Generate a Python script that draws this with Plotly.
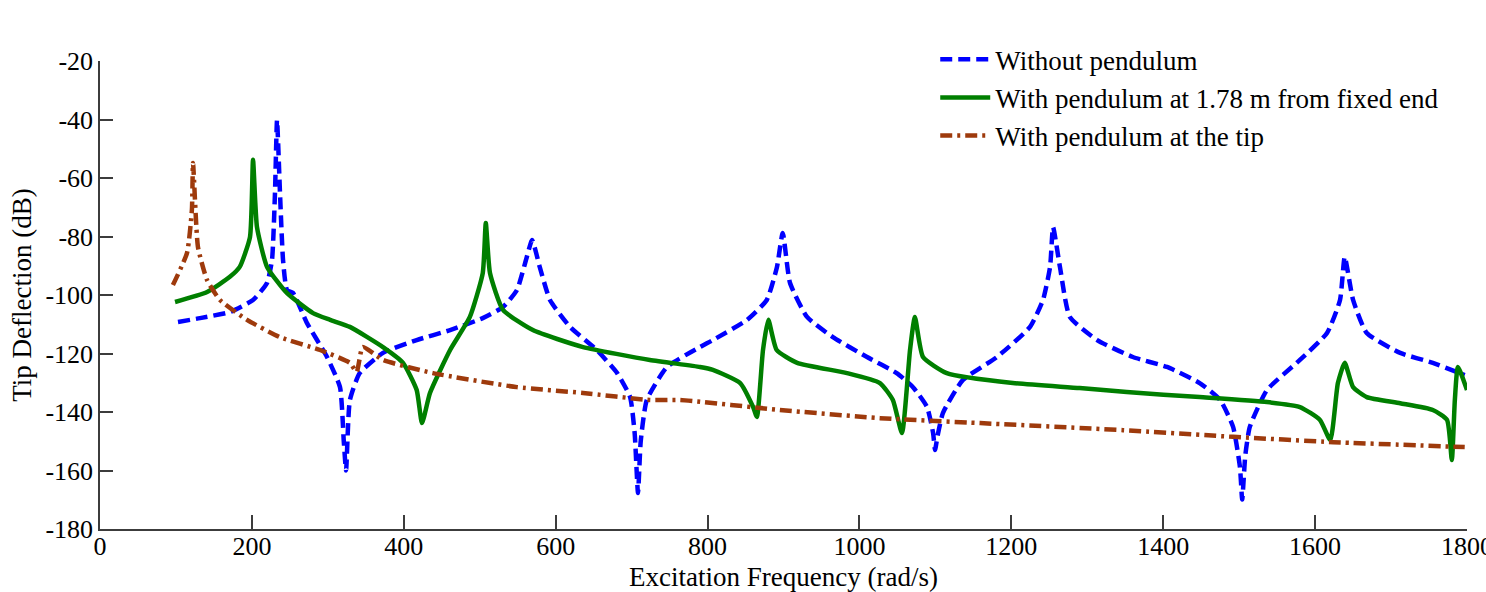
import plotly.graph_objects as go

# ---- Data ----
freq_without = [102.7, 131.7, 171.2, 201.5, 219.9, 226.5, 230.4, 233.1, 237.0, 241.0, 246.2, 254.1,
                272.6, 298.9, 316.0, 321.0, 324.0, 329.0, 342.0, 372.6, 417.0, 461.0, 504.0, 530.7,
                549.0, 562.0, 569.0, 579.0, 592.5, 619.0, 654.0, 681.0, 698.0, 704.0, 708.4, 712.0,
                720.0, 746.6, 790.0, 807.0, 852.0, 878.0, 891.4, 899.0, 908.6, 931.0, 965.0, 1010.0,
                1049.0, 1070.5, 1089.0, 1097.0, 1099.5, 1103.0, 1110.0, 1136.0, 1181.0, 1224.6,
                1241.7, 1251.0, 1255.0, 1264.0, 1277.0, 1313.0, 1360.0, 1405.0, 1448.0, 1475.0,
                1492.0, 1501.0, 1504.0, 1508.0, 1514.0, 1536.6, 1580.0, 1615.7, 1632.8, 1639.0,
                1650.0, 1668.0, 1712.0, 1755.0, 1797.0]
db_without = [-109.2, -107.9, -105.8, -101.7, -95.9, -88.0, -65.1, -40.2, -65.1, -88.0, -98.3, -99.3,
              -109.6, -121.2, -131.5, -150.0, -160.0, -136.0, -126.7, -119.8, -115.4, -112.0, -107.9, -104.1,
              -98.3, -87.0, -81.2, -90.4, -101.7, -110.9, -118.8, -126.7, -134.9, -147.2, -167.7, -150.0,
              -135.9, -124.6, -117.8, -115.4, -108.5, -101.7, -90.4, -78.8, -95.9, -107.5, -114.4, -121.2,
              -126.7, -131.5, -138.3, -147.2, -153.0, -148.0, -140.3, -129.1, -121.2, -110.9,
              -101.7, -90.4, -76.8, -90.4, -107.5, -115.4, -121.2, -124.6, -130.1, -135.9,
              -145.1, -158.8, -169.9, -155.0, -145.1, -132.5, -122.2, -113.0, -101.7, -87.0,
              -101.7, -113.0, -119.8, -123.2, -127.4]

freq_mid = [98.8, 141.0, 171.0, 184.0, 197.5, 201.5, 206.7, 220.0, 246.0, 280.5, 303.0, 329.0,
            372.6, 399.0, 417.0, 424.0, 434.5, 461.0, 487.0, 504.0, 508.0, 513.5, 530.7, 570.0,
            636.0, 724.0, 790.0, 807.0, 843.0, 860.0, 865.0, 873.0, 880.0, 891.0, 918.0, 983.6,
            1027.0, 1044.0, 1056.0, 1066.6, 1073.0, 1083.7, 1115.0, 1202.0, 1290.0, 1352.0,
            1448.0, 1536.6, 1580.0, 1606.4, 1620.0, 1630.0, 1639.0, 1650.0, 1668.0, 1712.0,
            1755.0, 1773.7, 1780.0, 1784.0, 1788.0, 1800.0]
db_mid = [-102.4, -99.0, -93.8, -90.4, -80.2, -53.8, -76.8, -90.4, -99.3, -106.2, -108.5, -110.9,
          -117.8, -123.2, -132.5, -143.8, -133.5, -118.8, -107.5, -92.5, -75.4, -92.5, -105.1, -112.0,
          -117.8, -122.2, -124.6, -125.6, -130.1, -138.3, -141.7, -118.8, -108.5, -118.8, -123.2, -126.7,
          -130.1, -135.9, -147.2, -118.8, -107.5, -121.2, -126.7, -130.1, -131.8, -133.2,
          -134.9, -136.6, -138.3, -142.7, -149.6, -130.1, -123.2, -131.5, -134.9, -137.0,
          -139.3, -142.7, -156.4, -135.9, -124.6, -132.5]

freq_tip = [96.0, 114.6, 121.0, 122.5, 129.0, 141.0, 158.0, 193.6, 237.0, 289.7, 329.0, 338.0,
            346.0, 372.6, 438.5, 549.0, 636.0, 724.0, 764.0, 895.0, 1027.0, 1159.0, 1347.0,
            1492.0, 1624.0, 1797.0]
db_tip = [-96.6, -85.6, -70.9, -54.9, -83.6, -94.9, -101.7, -108.5, -114.4, -118.8, -123.2, -126.3,
          -117.8, -122.2, -126.7, -131.5, -133.5, -135.9, -135.9, -139.3, -142.1, -143.8, -146.2,
          -148.5, -150.3, -152.0]

x_ticks = [0, 200, 400, 600, 800, 1000, 1200, 1400, 1600, 1800]
y_ticks = [-180, -160, -140, -120, -100, -80, -60, -40, -20]

names = ["Without pendulum", "With pendulum at 1.78 m from fixed end", "With pendulum at the tip"]

FONT = "Liberation Serif, Times New Roman, serif"
AXC = "#3c3c3c"

fig = go.Figure()
fig.add_trace(go.Scatter(x=freq_without, y=db_without, mode="lines", name=names[0],
                         line=dict(color="#0000FF", width=4.5, dash="12px,6px",
                                   shape="spline", smoothing=0.5)))
fig.add_trace(go.Scatter(x=freq_mid, y=db_mid, mode="lines", name=names[1],
                         line=dict(color="#007F00", width=4.5, shape="spline", smoothing=0.5)))
fig.add_trace(go.Scatter(x=freq_tip, y=db_tip, mode="lines", name=names[2],
                         line=dict(color="#9E3A0C", width=4.5, dash="12px,5px,3px,5px",
                                   shape="spline", smoothing=0.5)))

fig.update_layout(
    width=1486, height=592,
    margin=dict(l=100, r=19, t=61, b=63),
    paper_bgcolor="white", plot_bgcolor="white",
    font=dict(family=FONT, size=26, color="black"),
    showlegend=True,
    legend=dict(x=0.611, y=1.055, xanchor="left", yanchor="top",
                bgcolor="rgba(0,0,0,0)", borderwidth=0,
                font=dict(family=FONT, size=27, color="black"),
                itemwidth=50, tracegroupgap=0),
    xaxis=dict(range=[0, 1800], tickvals=x_ticks, ticktext=[str(v) for v in x_ticks],
               automargin=False,
               showgrid=False, zeroline=False, showline=True, linecolor=AXC, linewidth=1.5,
               ticks="inside", ticklen=14, tickwidth=1.5, tickcolor=AXC,
               ticklabeloverflow="allow", ticklabelstandoff=-7,
               tickfont=dict(family=FONT, size=26, color="black"),
               title=dict(text="Excitation Frequency (rad/s)", standoff=7,
                          font=dict(family=FONT, size=27, color="black"))),
    yaxis=dict(range=[-180, -20], tickvals=y_ticks, ticktext=[str(v) for v in y_ticks],
               automargin=False,
               showgrid=False, zeroline=False, showline=True, linecolor=AXC, linewidth=1.5,
               ticks="inside", ticklen=13, tickwidth=1.5, tickcolor=AXC,
               tickfont=dict(family=FONT, size=26, color="black"),
               title=dict(text="Tip Deflection (dB)", standoff=6,
                          font=dict(family=FONT, size=27, color="black"))),
)

fig.write_html("out.html")
